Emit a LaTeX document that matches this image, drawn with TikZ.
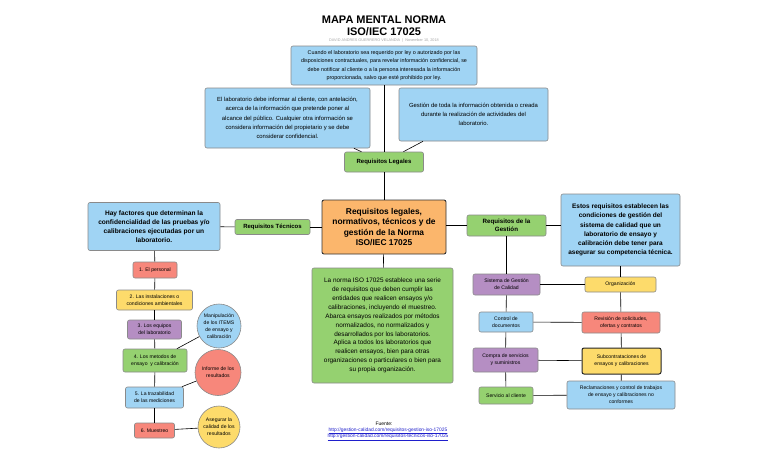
\documentclass[tikz,border=0pt]{standalone}
\usepackage{fontspec}
\setmainfont{Liberation Sans}
\definecolor{cblue}{HTML}{A0D4F4}
\definecolor{cgreen}{HTML}{95D170}
\definecolor{corange}{HTML}{FBB66C}
\definecolor{cred}{HTML}{F7877B}
\definecolor{cyellow}{HTML}{FDDB6B}
\definecolor{cpurple}{HTML}{B58EC3}
\definecolor{cborder}{HTML}{8A8A8A}
\definecolor{clink}{HTML}{1F1FCC}
\newcommand\myfs[2]{\fontsize{#1}{#2}\selectfont}
\begin{document}
\begin{tikzpicture}[x=1pt,y=-1pt,
  box/.style={rounded corners=2pt, draw=cborder, line width=0.6pt, align=center, inner sep=1pt},
  bl/.style={box, fill=cblue},
  gr/.style={box, fill=cgreen},
  rd/.style={box, fill=cred},
  ye/.style={box, fill=cyellow},
  pu/.style={box, fill=cpurple},
  small/.style={font=\myfs{5.1}{7}},
  circ/.style={circle, draw=cborder, line width=0.6pt, align=center, inner sep=0pt, small},
  conn/.style={draw=black, line width=0.6pt}]
\useasboundingbox[fill=white] (0,0) rectangle (768,466);

% title
\node[font=\myfs{11}{12}\bfseries] (t1) at (384,20) {MAPA MENTAL NORMA};
\node[font=\myfs{11}{12}\bfseries] (t2) at (384,32) {ISO/IEC 17025};
\node[text=gray!70, font=\myfs{3.8}{4}] (t3) at (384,40.5) {DAVID ANDRES GUERRERO VELANDIA \ | \ November 10, 2018};

% top
\node[bl, font=\myfs{5.4}{8.3}, minimum width=186, minimum height=39] (top) at (384,65.5) {Cuando el laboratorio sea requerido por ley o autorizado por las\\ disposiciones contractuales, para revelar información confidencial, se\\ debe notificar al cliente o a la persona interesada la información\\ proporcionada, salvo que esté prohibido por ley.};
\node[bl, font=\myfs{5.9}{9.2}, minimum width=165, minimum height=60] (lbox) at (287.5,118) {El laboratorio debe informar al cliente, con antelación,\\ acerca de la información que pretende poner al\\ alcance del público. Cualquier otra información se\\ considera información del propietario y se debe\\ considerar confidencial.};
\node[bl, font=\myfs{5.9}{8.8}, minimum width=149, minimum height=53] (rbox) at (473.5,114.5) {Gestión de toda la información obtenida o creada\\ durante la realización de actividades del\\ laboratorio.};
\node[gr, font=\myfs{6}{7}\bfseries, minimum width=79, minimum height=20] (leg) at (384,162) {Requisitos Legales};

% center
\node[box, fill=corange, draw=black!80, line width=0.9pt, font=\myfs{8.4}{10.3}\bfseries, minimum width=124, minimum height=54] (ctr) at (384,227) {Requisitos legales,\\ normativos, técnicos y de\\ gestión de la Norma\\ ISO/IEC 17025};
\node[gr, font=\myfs{6}{7}\bfseries, minimum width=75, minimum height=15] (tec) at (272.5,227) {Requisitos Técnicos};
\node[bl, font=\myfs{6.6}{9.2}\bfseries, minimum width=132, minimum height=48] (hay) at (154,226.5) {Hay factores que determinan la\\ confidencialidad de las pruebas y/o\\ calibraciones ejecutadas por un\\ laboratorio.};
\node[gr, font=\myfs{6.2}{8}\bfseries, minimum width=79, minimum height=21] (ges) at (506.5,225.5) {Requisitos de la\\ Gestión};
\node[bl, font=\myfs{6.5}{9.3}\bfseries, minimum width=119, minimum height=72] (est) at (620.5,230) {Estos requisitos establecen las\\ condiciones de gestión del\\ sistema de calidad que un\\ laboratorio de ensayo y\\ calibración debe tener para\\ asegurar su competencia técnica.};
\node[gr, font=\myfs{6.4}{8.9}, minimum width=141, minimum height=115] (norma) at (382.5,325.5) {La norma ISO 17025 establece una serie\\ de requisitos que deben cumplir las\\ entidades que realicen ensayos y/o\\ calibraciones, incluyendo el muestreo.\\ Abarca ensayos realizados por métodos\\ normalizados, no normalizados y\\ desarrollados por los laboratorios.\\ Aplica a todos los laboratorios que\\ realicen ensayos, bien para otras\\ organizaciones o particulares o bien para\\ su propia organización.};

% left column
\node[rd, small, minimum width=44, minimum height=16] (n1) at (155,270) {1. El personal};
\node[ye, small, minimum width=76, minimum height=20] (n2) at (154.5,300) {2. Las instalaciones o\\ condiciones ambientales};
\node[pu, small, minimum width=54, minimum height=19] (n3) at (154.5,329.5) {3. Los equipos\\ del laboratorio};
\node[gr, small, minimum width=64, minimum height=23] (n4) at (155,360.5) {4. Los metodos de\\ ensayo \ y calibración};
\node[bl, small, minimum width=58, minimum height=21] (n5) at (154.5,397.5) {5. La trazabilidad\\ de las mediciones};
\node[rd, small, minimum width=40, minimum height=15] (n6) at (154.5,430.5) {6. Muestreo};
\node[circ, fill=cblue, minimum size=44] (c1) at (219,326) {Manipulación\\ de los ITEMS\\ de ensayo y\\ calibración};
\node[circ, fill=cred, minimum size=46] (c2) at (218,372.5) {Informe de los\\ resultados};
\node[circ, fill=cyellow, minimum size=42] (c3) at (219,427) {Asegurar la\\ calidad de los\\ resultados};

% right column
\node[pu, small, minimum width=67, minimum height=21] (sg) at (506.5,284.5) {Sistema de Gestión\\ de Calidad};
\node[ye, small, minimum width=71, minimum height=15] (org) at (620.5,284.5) {Organización};
\node[bl, small, minimum width=54, minimum height=20] (cd) at (506,322) {Control de\\ documentos};
\node[rd, small, minimum width=78, minimum height=21] (rev) at (621,322.5) {Revisión de solicitudes,\\ ofertas y contratos};
\node[pu, small, minimum width=65, minimum height=24] (cs) at (505.5,360) {Compra de servicios\\ y suministros};
\node[ye, small, draw=black!85, line width=1pt, minimum width=79, minimum height=26] (sub) at (621.5,361) {Subcontrataciones de\\ ensayos y calibraciones};
\node[gr, small, minimum width=54, minimum height=17] (sc) at (506,395.5) {Servicio al cliente};
\node[bl, small, minimum width=108, minimum height=28] (rec) at (621,395) {Reclamaciones y control de trabajos\\ de ensayo y calibraciones no\\ conformes};

% sources
\node[font=\myfs{5}{6}] (f1) at (384,424) {Fuente:};
\node[text=clink, font=\myfs{4.9}{6}] (f2) at (388,430.8) {\underline{http://gestion-calidad.com/requisitos-gestion-iso-17025}};
\node[text=clink, font=\myfs{4.9}{6}] (f3) at (388,437.6) {\underline{http://gestion-calidad.com/requisitos-tecnicos-iso-17025}};

% connectors
\draw[conn] (top) -- (leg);
\draw[conn] (lbox) -- (leg);
\draw[conn] (rbox) -- (leg);
\draw[conn] (leg) -- (ctr);
\draw[conn] (ctr) -- (tec);
\draw[conn] (tec) -- (hay);
\draw[conn] (ctr.east |- ges.west) -- (ges.west);
\draw[conn] (ges.east) -- (ges.east -| est.west);
\draw[conn] (ctr) -- (norma);
\draw[conn] (hay) -- (n1);
\draw[conn] (n1) -- (n2);
\draw[conn] (n2) -- (n3);
\draw[conn] (n3) -- (n4);
\draw[conn] (n4) -- (n5);
\draw[conn] (n5) -- (n6);
\draw[conn] (c1) -- (n4);
\draw[conn] (c2) -- (n5);
\draw[conn] (c3) -- (n6);
\draw[conn] (ges) -- (sg);
\draw[conn] (sg) -- (cd);
\draw[conn] (cd) -- (cs);
\draw[conn] (cs) -- (sc);
\draw[conn] (est) -- (org);
\draw[conn] (org) -- (rev);
\draw[conn] (rev) -- (sub);
\draw[conn] (sub) -- (rec);
\draw[conn] (sg) -- (org);
\draw[conn] (cd) -- (rev);
\draw[conn] (cs) -- (sub);
\draw[conn] (sc) -- (rec);
\end{tikzpicture}
\end{document}
